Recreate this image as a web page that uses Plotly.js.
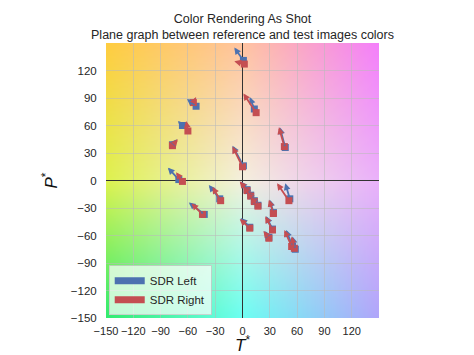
<!DOCTYPE html>
<html>
<head>
<meta charset="utf-8">
<script src="https://cdn.plot.ly/plotly-3.0.1.min.js"></script>
<style>html,body{margin:0;padding:0;background:#fff;}#chart{width:474px;height:355px;}</style>
</head>
<body>
<div id="chart"></div>
<script>
// SDR Left: test position (square) and reference position (arrow tip)
const leftT    = [1, 13, -51, -66, -77, -70, -25, -42, 1, 5, 9, 13, 17, 52, 34, 8, 33, 29, 55, 58, 47];
const leftP    = [131, 78, 81, 60, 39, 1, -20, -37, 16, -10, -16, -22, -27, -20, -35, -51, -53, -62, -72, -75, 36];
const leftRefT = [-9, 8, -61, -71, -72, -82, -37, -59, -11, -2, 2, 6, 10, 47, 30, -2, 26, 24, 48, 55, 41];
const leftRefP = [145, 91, 89, 65, 45, 14, -5, -24, 38, -1, -7, -13, -18, -3, -21, -41, -39, -55, -54, -61, 58];
// SDR Right
const rightT    = [2, 15, -54, -60, -77, -66, -24, -44, 0, 5, 9, 13, 17, 51, 34, 8, 33, 29, 54, 57, 46];
const rightP    = [127, 74, 85, 54, 38, -1, -22, -37, 15, -11, -17, -23, -28, -22, -36, -52, -54, -63, -72, -74, 37];
const rightRefT = [-9, 1, -51, -62, -71, -73, -33, -56, -11, -3, 1, 5, 9, 38, 29, -3, 25, 23, 46, 54, 40];
const rightRefP = [130, 95, 91, 65, 45, 9, -7, -25, 37, -1, -7, -13, -18, -3, -21, -42, -39, -55, -54, -61, 58];

const tickVals = [-150, -120, -90, -60, -30, 0, 30, 60, 90, 120];
const seriesNames = ['SDR Left', 'SDR Right'];
const seriesColors = ['#4C72B0', '#C44E52'];

// background color plane (style only)
function planeImage() {
  const N = 120;
  const c = document.createElement('canvas');
  c.width = N; c.height = N;
  const ctx = c.getContext('2d');
  const img = ctx.createImageData(N, N);
  const g = [
    [[255,205,65],[255,196,160],[244,128,250]],
    [[222,242,80],[244,240,222],[234,178,250]],
    [[50,236,112],[108,255,242],[176,166,250]]
  ];
  for (let j = 0; j < N; j++) {
    const v = j / (N - 1) * 2;
    const r0 = Math.min(1, Math.floor(v)), fv = v - r0;
    for (let i = 0; i < N; i++) {
      const u = i / (N - 1) * 2;
      const c0 = Math.min(1, Math.floor(u)), fu = u - c0;
      const k = (j * N + i) * 4;
      for (let ch = 0; ch < 3; ch++) {
        const a = g[r0][c0][ch] * (1 - fu) + g[r0][c0 + 1][ch] * fu;
        const b = g[r0 + 1][c0][ch] * (1 - fu) + g[r0 + 1][c0 + 1][ch] * fu;
        img.data[k + ch] = Math.round(a * (1 - fv) + b * fv);
      }
      img.data[k + 3] = 255;
    }
  }
  ctx.putImageData(img, 0, 0);
  return c.toDataURL('image/png');
}

const traces = [
  {x: leftT, y: leftP, mode: 'markers', type: 'scatter', showlegend: false,
   marker: {symbol: 'square', size: 7, color: seriesColors[0]}},
  {x: rightT, y: rightP, mode: 'markers', type: 'scatter', showlegend: false,
   marker: {symbol: 'square', size: 7, color: seriesColors[1]}},
  {x: [null], y: [null], mode: 'lines', name: seriesNames[0], line: {color: seriesColors[0], width: 7}},
  {x: [null], y: [null], mode: 'lines', name: seriesNames[1], line: {color: seriesColors[1], width: 7}}
];

const annotations = [];
function addArrows(t, p, rt, rp, color) {
  for (let i = 0; i < t.length; i++) {
    annotations.push({x: rt[i], y: rp[i], ax: t[i], ay: p[i], xref: 'x', yref: 'y',
      axref: 'x', ayref: 'y', text: '', showarrow: true, arrowhead: 2, arrowsize: 0.75,
      arrowwidth: 1.8, arrowcolor: color, standoff: 0, startstandoff: 0});
  }
}
addArrows(leftT, leftP, leftRefT, leftRefP, seriesColors[0]);
addArrows(rightT, rightP, rightRefT, rightRefP, seriesColors[1]);

const fam = 'Liberation Sans, Arial, sans-serif';

const layout = {
  width: 474, height: 355,
  margin: {l: 106, r: 95, t: 43, b: 37},
  paper_bgcolor: '#fff', plot_bgcolor: 'rgba(0,0,0,0)',
  font: {family: fam, color: '#262626', size: 11},
  title: {text: 'Color Rendering As Shot<br>Plane graph between reference and test images colors',
    font: {family: fam, size: 12.5, color: '#262626'},
    x: 0.5, xref: 'paper', xanchor: 'center', y: 0.936, yref: 'container', yanchor: 'middle'},
  xaxis: {range: [-150, 150], tickvals: tickVals, tickangle: 0, showgrid: true, gridcolor: 'rgba(185,185,185,0.55)', gridwidth: 1,
    zeroline: true, zerolinecolor: '#333', zerolinewidth: 1.5, showline: false,
    ticks: 'outside', ticklen: 3, tickcolor: 'rgba(0,0,0,0)', tickfont: {size: 11, color: '#262626'},
    title: {text: '<i>T</i><sup>*</sup>', font: {size: 17, color: '#111'}, standoff: 7}},
  yaxis: {range: [-150, 150], tickvals: tickVals, showgrid: true, gridcolor: 'rgba(185,185,185,0.55)', gridwidth: 1,
    zeroline: true, zerolinecolor: '#333', zerolinewidth: 1.5, showline: false,
    ticks: 'outside', ticklen: 6, tickcolor: 'rgba(0,0,0,0)', tickfont: {size: 11.5, color: '#262626'},
    title: {text: '<i>P</i><sup>*</sup>', font: {size: 17, color: '#111'}, standoff: 8}},
  legend: {x: 0.01, y: 0.01, xanchor: 'left', yanchor: 'bottom', bgcolor: 'rgba(255,255,255,0.7)',
    bordercolor: 'rgba(200,200,200,0.8)', borderwidth: 1, font: {size: 11.5, color: '#262626'}},
  images: [{source: planeImage(), xref: 'x', yref: 'y', x: -150, y: 150, sizex: 300, sizey: 300,
    sizing: 'stretch', layer: 'below', xanchor: 'left', yanchor: 'top'}],
  annotations: annotations
};

Plotly.newPlot('chart', traces, layout, {displayModeBar: false, staticPlot: true});
</script>
</body>
</html>
